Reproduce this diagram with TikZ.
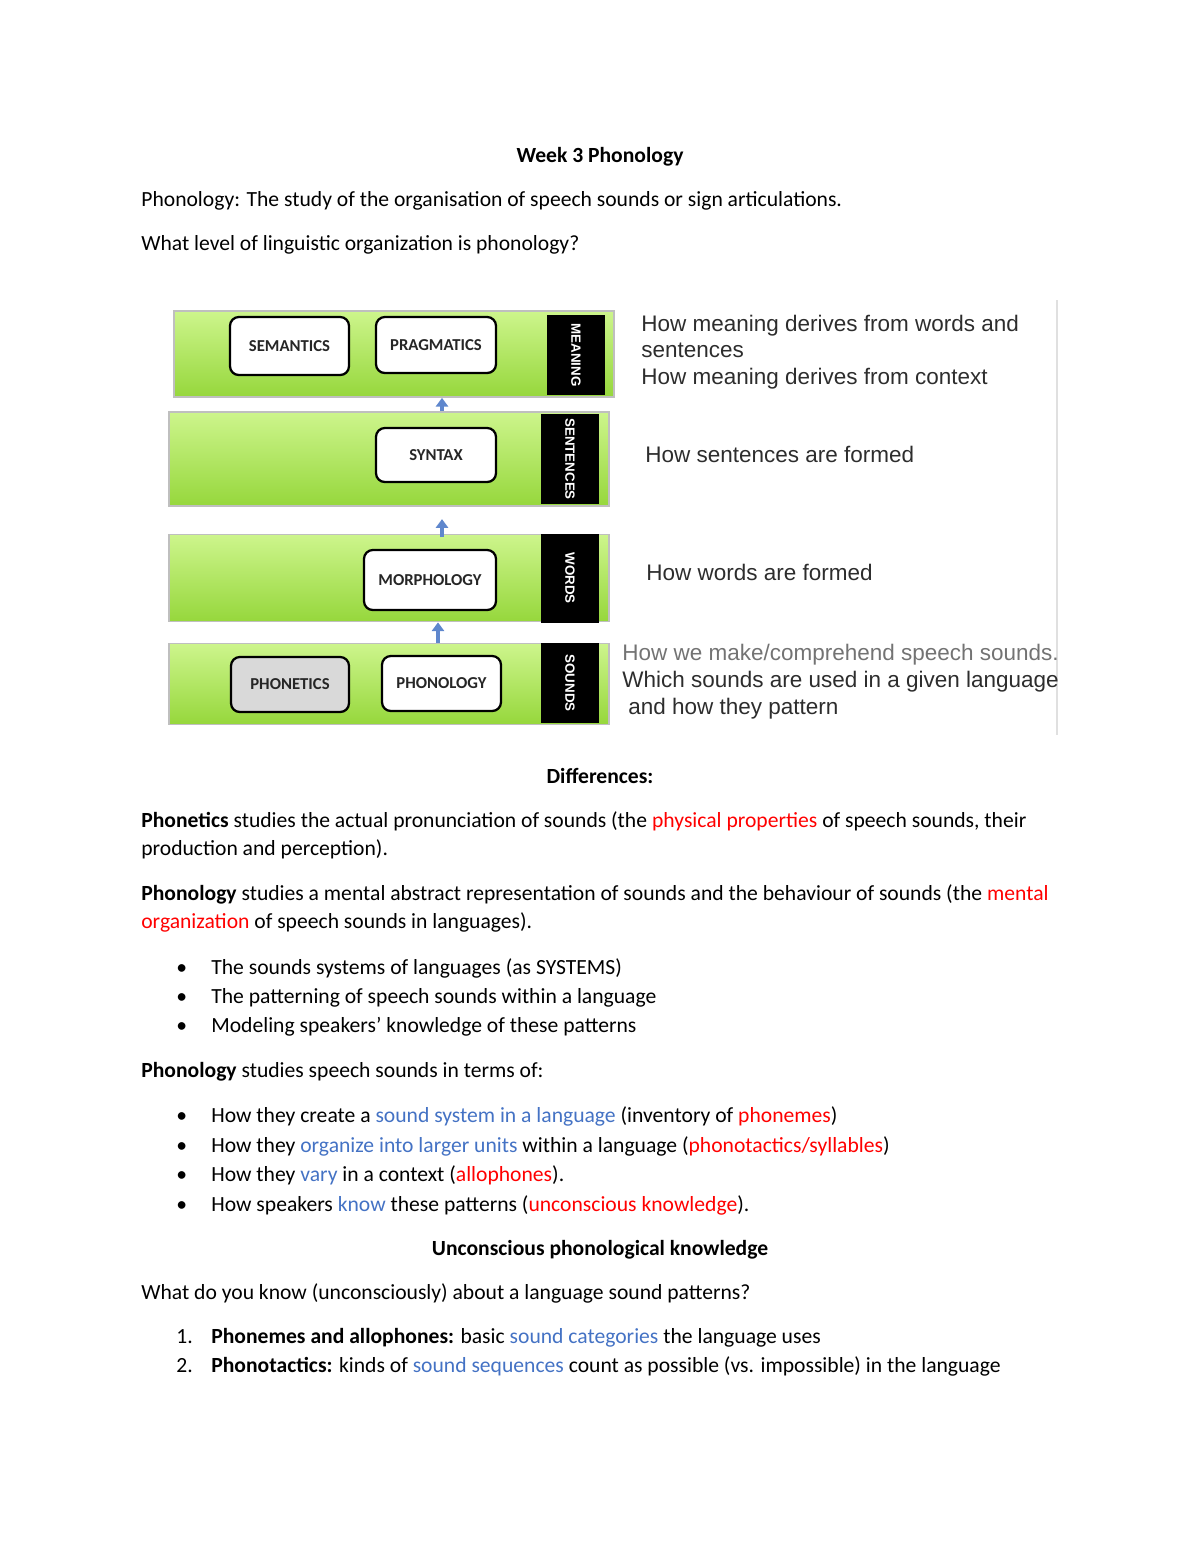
\documentclass[tikz,border=0pt]{standalone}
\usepackage{fontspec}
\setmainfont{Carlito}
\newfontfamily\arialfont{Liberation Sans}
\usetikzlibrary{arrows.meta}
\definecolor{docred}{RGB}{255,0,0}
\definecolor{docblue}{RGB}{68,114,196}
\definecolor{arrowblue}{RGB}{95,135,205}
\definecolor{bandtop}{RGB}{205,245,140}
\definecolor{bandbot}{RGB}{150,215,60}
\definecolor{notegray}{RGB}{45,45,45}
\newcommand{\red}[1]{\textcolor{docred}{#1}}
\newcommand{\blu}[1]{\textcolor{docblue}{#1}}
\begin{document}
\begin{tikzpicture}[x=0.02cm,y=-0.02cm,
  txt/.style={anchor=base west,inner sep=0pt,font=\fontsize{12.3}{14}\selectfont},
  ctxt/.style={anchor=base,inner sep=0pt,font=\fontsize{12.3}{14}\selectfont\bfseries},
  band/.style={draw=black!25,line width=1pt,top color=bandtop,bottom color=bandbot,minimum width=8.8cm,inner sep=0pt},
  tag/.style={fill=black,text=white,minimum width=1.16cm,inner sep=0pt,font=\fontsize{7.6}{9}\selectfont\arialfont\bfseries},
  field/.style={draw=black,line width=1.3pt,rounded corners=5pt,fill=white,inner sep=0pt,text=black!85,font=\fontsize{9.5}{10}\selectfont\bfseries},
  note/.style={anchor=base west,inner sep=0pt,text=notegray,font=\fontsize{12.8}{15}\selectfont\arialfont},
  up/.style={arrowblue,line width=2pt,-{Triangle[width=7pt,length=5pt]}}]
\useasboundingbox (0,0) rectangle (1200,1553);
% heading
\node[ctxt] (title) at (600,162) {Week 3 Phonology};
\node[txt] (def) at (141,206) {Phonology: The study of the organisation of speech sounds or sign articulations.};
\node[txt] (quest) at (141,250) {What level of linguistic organization is phonology?};
% diagram
\draw[black!12,line width=1pt] (1057,300) -- (1057,735);
\node[band,minimum height=1.72cm] (meaning) at (394,354) {};
\node[band,minimum height=1.88cm] (sentences) at (389,459) {};
\node[band,minimum height=1.74cm] (words) at (389,578) {};
\node[band,minimum height=1.62cm] (sounds) at (389,684) {};
\node[tag,minimum height=1.6cm] (meaningtag) at (576,355) {\rotatebox{-90}{MEANING}};
\node[tag,minimum height=1.8cm] (sentencestag) at (570,459) {\rotatebox{-90}{SENTENCES}};
\node[tag,minimum height=1.78cm] (wordstag) at (570,578) {\rotatebox{-90}{WORDS}};
\node[tag,minimum height=1.6cm] (soundstag) at (570,683) {\rotatebox{-90}{SOUNDS}};
\node[field,minimum width=2.38cm,minimum height=1.16cm] (semantics) at (289.5,346) {SEMANTICS};
\node[field,minimum width=2.4cm,minimum height=1.12cm] (pragmatics) at (436,345) {PRAGMATICS};
\node[field,minimum width=2.4cm,minimum height=1.08cm] (syntax) at (436,455) {SYNTAX};
\node[field,minimum width=2.64cm,minimum height=1.2cm] (morphology) at (430,580) {MORPHOLOGY};
\node[field,fill=black!15,minimum width=2.36cm,minimum height=1.1cm] (phonetics) at (290,684.5) {PHONETICS};
\node[field,minimum width=2.38cm,minimum height=1.1cm] (phonology) at (441.5,683.5) {PHONOLOGY};
\draw[up] (sentences.north -| 442,0) -- (meaning.south -| 442,0);
\draw[up] ([yshift=-2pt]words.north -| 442,0) -- ++(0,-18);
\draw[up] (sounds.north -| 438,0) -- (words.south -| 438,0);
\node[note] (n1) at (641,331) {How meaning derives from words and};
\node[note] (n2) at (641,357) {sentences};
\node[note] (n3) at (641,384) {How meaning derives from context};
\node[note] (n4) at (645,462) {How sentences are formed};
\node[note] (n5) at (646,580) {How words are formed};
\node[note,text=black!55] (n6) at (622,660) {How we make/comprehend speech sounds.};
\node[note] (n7) at (622,687) {Which sounds are used in a given language};
\node[note] (n8) at (628,714) {and how they pattern};
% differences
\node[ctxt] (diff) at (600,783) {Differences:};
\node[txt] (p1a) at (141,827) {\textbf{Phonetics} studies the actual pronunciation of sounds (the \red{physical properties} of speech sounds, their};
\node[txt] (p1b) at (141,855) {production and perception).};
\node[txt] (p2a) at (141,900) {\textbf{Phonology} studies a mental abstract representation of sounds and the behaviour of sounds (the \red{mental}};
\node[txt] (p2b) at (141,928) {\red{organization} of speech sounds in languages).};
\foreach \yy/\tt [count=\i] in {974/{The sounds systems of languages (as SYSTEMS)},
  1003/{The patterning of speech sounds within a language},
  1032/{Modeling speakers’ knowledge of these patterns}}{
  \node[txt] (ba\i) at (176,\yy) {•};
  \node[txt] (ta\i) at (211,\yy) {\tt};
}
\node[txt] (p3) at (141,1077) {\textbf{Phonology} studies speech sounds in terms of:};
\foreach \yy/\tt [count=\i] in {1122/{How they create a \blu{sound system in a language} (inventory of \red{phonemes})},
  1152/{How they \blu{organize into larger units} within a language (\red{phonotactics/syllables})},
  1181/{How they \blu{vary} in a context (\red{allophones}).},
  1211/{How speakers \blu{know} these patterns (\red{unconscious knowledge}).}}{
  \node[txt] (bb\i) at (176,\yy) {•};
  \node[txt] (tb\i) at (211,\yy) {\tt};
}
\node[ctxt] (uncon) at (600,1255) {Unconscious phonological knowledge};
\node[txt] (p4) at (141,1299) {What do you know (unconsciously) about a language sound patterns?};
\node[txt] (num1) at (176,1343) {1.};
\node[txt] (item1) at (211,1343) {\textbf{Phonemes and allophones:} basic \blu{sound categories} the language uses};
\node[txt] (num2) at (176,1372) {2.};
\node[txt] (item2) at (211,1372) {\textbf{Phonotactics:} kinds of \blu{sound sequences} count as possible (vs. impossible) in the language};
\end{tikzpicture}
\end{document}
